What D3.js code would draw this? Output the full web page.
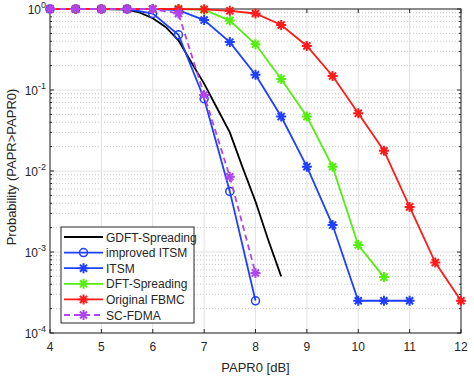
<!DOCTYPE html>
<html>
<head>
<meta charset="utf-8">
<script src="https://cdn.jsdelivr.net/npm/d3@7"></script>
<style>
  body { margin: 0; background: #fff; }
  svg { display: block; font-family: "Liberation Sans", Arial, sans-serif; }
</style>
</head>
<body>
<svg id="chart"></svg>
<script>
// CCDF of PAPR for different FBMC spreading schemes

const papr = [4, 4.5, 5, 5.5, 6, 6.5, 7, 7.5, 8, 8.5, 9, 9.5, 10, 10.5, 11, 11.5, 12];

const gdftX = [4, 5, 5.5, 5.75, 6, 6.25, 6.5, 6.75, 7, 7.25, 7.5, 7.75, 8, 8.25, 8.5];
const gdftY = [1, 1, 0.98, 0.9, 0.77, 0.6, 0.41, 0.22, 0.12, 0.06, 0.03, 0.011, 0.0042, 0.0014, 0.0005];

const improvedItsm = [1, 1, 1, 1, 0.88, 0.48, 0.078, 0.0056, 0.00025];
const itsm = [1, 1, 1, 1, 1, 0.97, 0.73, 0.39, 0.154, 0.047, 0.0113, 0.00215, 0.00025, 0.00025, 0.00025];
const dftSpreading = [1, 1, 1, 1, 1, 1, 0.98, 0.72, 0.367, 0.137, 0.047, 0.0113, 0.00122, 0.00049];
const originalFbmc = [1, 1, 1, 1, 1, 1, 0.99, 0.95, 0.88, 0.635, 0.35, 0.149, 0.0515, 0.0178, 0.0036, 0.00074, 0.00025];
const scFdma = [1, 1, 1, 1, 1, 0.88, 0.087, 0.0085, 0.00055];

const xTicks = [4, 5, 6, 7, 8, 9, 10, 11, 12];
const yTicks = [0, -1, -2, -3, -4];

const series = [
  { name: "GDFT-Spreading", color: "#000000", marker: null, dash: null,
    pts: gdftX.map((x, i) => [x, gdftY[i]]) },
  { name: "improved ITSM", color: "#1f3fff", marker: "circle", dash: null,
    pts: improvedItsm.map((v, i) => [papr[i], v]) },
  { name: "ITSM", color: "#1f3fff", marker: "star", dash: null,
    pts: itsm.map((v, i) => [papr[i], v]) },
  { name: "DFT-Spreading", color: "#55ee11", marker: "star", dash: null,
    pts: dftSpreading.map((v, i) => [papr[i], v]) },
  { name: "Original FBMC", color: "#ff1a1a", marker: "star", dash: null,
    pts: originalFbmc.map((v, i) => [papr[i], v]) },
  { name: "SC-FDMA", color: "#b044ee", marker: "star", dash: "6,4",
    pts: scFdma.map((v, i) => [papr[i], v]) }
];

const width = 474,
  height = 377,
  margin = { top: 9, right: 13, bottom: 44, left: 50 };

const x = d3.scaleLinear([4, 12], [margin.left, width - margin.right]);
const y = d3.scaleLog([1e-4, 1], [height - margin.bottom, margin.top]);

const svg = d3.select("svg#chart").attr("width", width).attr("height", height);

const axisColor = "#262626";
const x0 = margin.left, x1 = width - margin.right;
const y0 = height - margin.bottom, y1 = margin.top;

// minor grid (dotted) on y
const minors = [];
for (let e = -4; e < 0; e++) for (let m = 2; m <= 9; m++) minors.push(m * Math.pow(10, e));

const grid = svg.append("g");
grid.selectAll("line.minor")
  .data(minors)
  .join("line")
  .attr("x1", x0).attr("x2", x1)
  .attr("y1", d => y(d)).attr("y2", d => y(d))
  .attr("stroke", "#c8c8c8")
  .attr("stroke-dasharray", "1,2");
grid.selectAll("line.gx")
  .data(xTicks)
  .join("line")
  .attr("x1", d => x(d)).attr("x2", d => x(d))
  .attr("y1", y0).attr("y2", y1)
  .attr("stroke", "#e2e2e2");
grid.selectAll("line.gy")
  .data(yTicks)
  .join("line")
  .attr("x1", x0).attr("x2", x1)
  .attr("y1", d => y(Math.pow(10, d))).attr("y2", d => y(Math.pow(10, d)))
  .attr("stroke", "#e2e2e2");

// axes box with ticks
const axes = svg.append("g").attr("stroke", axisColor).attr("fill", "none");
axes.append("rect")
  .attr("x", x0).attr("y", y1)
  .attr("width", x1 - x0).attr("height", y0 - y1)
  .attr("stroke-width", 1);
xTicks.forEach(t => {
  axes.append("line").attr("x1", x(t)).attr("x2", x(t)).attr("y1", y0).attr("y2", y0 - 4);
  axes.append("line").attr("x1", x(t)).attr("x2", x(t)).attr("y1", y1).attr("y2", y1 + 4);
});
yTicks.forEach(t => {
  const yy = y(Math.pow(10, t));
  axes.append("line").attr("x1", x0).attr("x2", x0 + 4).attr("y1", yy).attr("y2", yy);
  axes.append("line").attr("x1", x1).attr("x2", x1 - 4).attr("y1", yy).attr("y2", yy);
});
minors.forEach(m => {
  const yy = y(m);
  axes.append("line").attr("x1", x0).attr("x2", x0 + 2).attr("y1", yy).attr("y2", yy);
  axes.append("line").attr("x1", x1).attr("x2", x1 - 2).attr("y1", yy).attr("y2", yy);
});

// tick labels
svg.append("g")
  .selectAll("text")
  .data(xTicks)
  .join("text")
  .attr("x", d => x(d))
  .attr("y", y0 + 18)
  .attr("text-anchor", "middle")
  .attr("fill", axisColor)
  .style("font-size", "12px")
  .text(d => d);

const yl = svg.append("g")
  .selectAll("text")
  .data(yTicks)
  .join("text")
  .attr("x", x0 - 4)
  .attr("y", d => y(Math.pow(10, d)) + 5)
  .attr("text-anchor", "end")
  .attr("fill", axisColor)
  .style("font-size", "12px");
yl.append("tspan").text("10");
yl.append("tspan")
  .attr("dy", -6)
  .style("font-size", "9px")
  .text(d => (d === 0 ? "0" : "-" + Math.abs(d)));

// axis titles
svg.append("text")
  .attr("x", (x0 + x1) / 2)
  .attr("y", height - 5)
  .attr("text-anchor", "middle")
  .attr("fill", axisColor)
  .style("font-size", "13px")
  .text("PAPR0 [dB]");

svg.append("text")
  .attr("transform", `translate(16, ${(y0 + y1) / 2 - 4}) rotate(-90)`)
  .attr("text-anchor", "middle")
  .attr("fill", axisColor)
  .style("font-size", "13px")
  .text("Probability (PAPR>PAPR0)");

// markers
const starPath = r => {
  const d = r * Math.SQRT1_2;
  return `M${-r},0L${r},0M0,${-r}L0,${r}M${-d},${-d}L${d},${d}M${-d},${d}L${d},${-d}`;
};
function drawMarker(g, type, color) {
  if (type === "circle") {
    g.append("circle").attr("r", 4).attr("fill", "none").attr("stroke", color).attr("stroke-width", 1.5);
  } else if (type === "star") {
    g.append("path").attr("d", starPath(5)).attr("stroke", color).attr("stroke-width", 2).attr("fill", "none");
  }
}

const line = d3.line().x(d => x(d[0])).y(d => y(d[1]));
const plot = svg.append("g");

series.forEach(s => {
  const g = plot.append("g");
  g.append("path")
    .attr("d", line(s.pts))
    .attr("fill", "none")
    .attr("stroke", s.color)
    .attr("stroke-width", 1.8)
    .attr("stroke-dasharray", s.dash);
  if (s.marker) {
    g.selectAll("g")
      .data(s.pts)
      .join("g")
      .attr("transform", d => `translate(${x(d[0])},${y(d[1])})`)
      .each(function () { drawMarker(d3.select(this), s.marker, s.color); });
  }
});

// legend
const lg = svg.append("g").attr("transform", "translate(61, 227)");
lg.append("rect")
  .attr("width", 133).attr("height", 96)
  .attr("fill", "#fff")
  .attr("stroke", axisColor);
series.forEach((s, i) => {
  const yy = 10 + i * 15.6;
  const row = lg.append("g").attr("transform", `translate(0, ${yy})`);
  row.append("line")
    .attr("x1", 3).attr("x2", 42)
    .attr("stroke", s.color)
    .attr("stroke-width", 1.8)
    .attr("stroke-dasharray", s.dash);
  if (s.marker) drawMarker(row.append("g").attr("transform", "translate(22.5, 0)"), s.marker, s.color);
  row.append("text")
    .attr("x", 45)
    .attr("y", 4.5)
    .attr("fill", axisColor)
    .style("font-size", "12px")
    .text(s.name);
});
</script>
</body>
</html>
